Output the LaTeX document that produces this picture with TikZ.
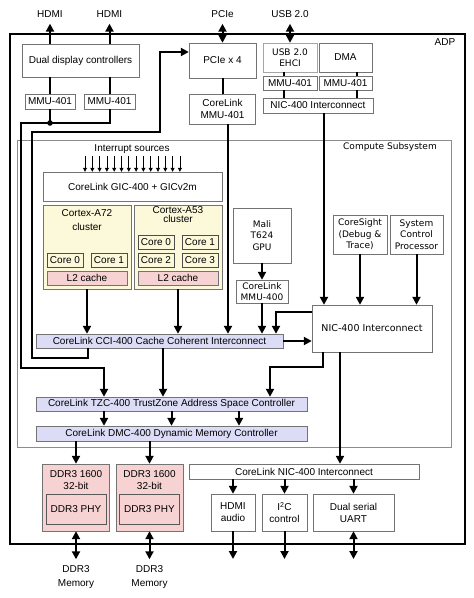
\documentclass[tikz,border=0pt]{standalone}
\usepackage{fontspec}
\setmainfont{Liberation Sans}
\newfontfamily\dvs{DejaVu Sans}
\usepackage{xcolor}
\usetikzlibrary{arrows.meta}
\colorlet{boxgray}{black!55}
\definecolor{lightyellow}{HTML}{FCF8DA}
\definecolor{lightpink}{HTML}{F6D2D2}
\definecolor{lightlav}{HTML}{DCDCF6}

\tikzset{
	wh/.style 2 args={minimum width=#1pt, minimum height=#2pt},
	lbl/.style={inner sep=2pt, align=center, font=\fontsize{10}{12}\selectfont},
	box/.style={draw=boxgray, fill=white, inner sep=0pt, align=center, font=\fontsize{10}{12}\selectfont},
	dv/.style={font=\dvs\fontsize{9}{11.5}\selectfont},
	core/.style={box, fill=lightyellow, draw=black!70, wh={36}{14}},
	bus/.style={line width=2pt},
}

\begin{document}
\begin{tikzpicture}[x=1pt, y=-1pt, >={Triangle[length=8pt,width=8pt]}]
	\useasboundingbox (0,0) rectangle (474,598);
	% frames
	\node	(adp) at (237.5,289) [draw, line width=1.5pt, wh={455}{510}] {};
	\node	(adpl) at (445,42) [lbl] {ADP};
	\node	(sub) at (234,293.5) [draw=black!45, line width=0.9pt, wh={434}{307}] {};
	\node	(subl) at (390,147) [lbl, dv] {Compute Subsystem};
	% top row
	\node	(hd1) at (50,14) [lbl] {HDMI};
	\node	(hd2) at (109.5,14) [lbl] {HDMI};
	\node	(pl) at (222.5,14) [lbl] {PCIe};
	\node	(ul) at (290,14) [lbl] {USB 2.0};
	\node	(dc) at (80.5,60.5) [box, wh={117}{33}] {Dual display controllers};
	\node	(ma) at (50,101.5) [box, wh={50}{15}] {MMU-401};
	\node	(mb) at (109.5,101.5) [box, wh={51}{15}] {MMU-401};
	\node	(pc) at (222.5,60.5) [box, wh={67}{35}] {PCIe x 4};
	\node	(pm) at (222.5,109) [box, wh={66}{30}] {CoreLink\\MMU-401};
	\node	(ue) at (290,57.5) [box, dv, draw=black!35, wh={54}{29}] {USB 2.0\\EHCI};
	\node	(dm) at (345.5,57.5) [box, wh={53}{29}] {DMA};
	\node	(uma) at (290,83) [box, wh={54}{14}] {MMU-401};
	\node	(umb) at (345.5,83) [box, wh={53}{14}] {MMU-401};
	\node	(nt) at (318,105.5) [box, wh={110}{15}] {NIC-400 Interconnect};
	% compute subsystem
	\node	(il) at (132,149) [lbl] {Interrupt sources};
	\node	(gic) at (132.5,186.5) [box, wh={179}{29}] {CoreLink GIC-400 + GICv2m};
	\node	(ca) at (87,247) [box, fill=lightyellow, wh={88}{84}] {};
	\node	(cal) at (87,220) [lbl] {Cortex-A72\\[2pt]cluster};
	\node	(a0) at (65,260) [core] {Core 0};
	\node	(a1) at (109,260) [core] {Core 1};
	\node	(al2) at (87,278) [box, fill=lightpink, wh={80}{14}] {L2 cache};
	\node	(cb) at (178,247) [box, fill=lightyellow, wh={88}{84}] {};
	\node	(cbl) at (178,215) [lbl] {Cortex-A53\\[-3pt]cluster};
	\node	(b0) at (156,242) [core] {Core 0};
	\node	(b1) at (200,242) [core] {Core 1};
	\node	(b2) at (156,260) [core] {Core 2};
	\node	(b3) at (200,260) [core] {Core 3};
	\node	(bl2) at (178,278) [box, fill=lightpink, wh={80}{14}] {L2 cache};
	\node	(gpu) at (262,235.5) [box, dv, wh={58}{55}] {Mali\\T624\\GPU};
	\node	(mm4) at (262,291.5) [box, dv, wh={52}{23}] {CoreLink\\MMU-400};
	\node	(cs) at (360,234.5) [box, dv, wh={54}{39}] {CoreSight\\(Debug \&\\Trace)};
	\node	(scp) at (416.5,234.5) [box, dv, wh={53}{39}] {System\\Control\\Processor};
	\node	(nb) at (372,328.5) [box, dv, font=\dvs\fontsize{9.5}{11.5}\selectfont, wh={120}{47}] {NIC-400 Interconnect};
	\node	(cci) at (159.5,341) [box, fill=lightlav, wh={247}{14}] {CoreLink CCI-400 Cache Coherent Interconnect};
	\node	(tzc) at (171.5,404) [box, fill=lightlav, wh={271}{14}] {CoreLink TZC-400 TrustZone Address Space Controller};
	\node	(dmc) at (171.5,433.5) [box, fill=lightlav, wh={271}{15}] {CoreLink DMC-400 Dynamic Memory Controller};
	% bottom row
	\node	(da) at (76,497.5) [box, fill=lightpink, wh={67}{67}] {};
	\node	(dal) at (76,480) [lbl] {DDR3 1600\\32-bit};
	\node	(pa) at (76,509) [box, fill=lightpink, draw=black!65, wh={60}{30}] {DDR3 PHY};
	\node	(db) at (149.5,497.5) [box, fill=lightpink, wh={67}{67}] {};
	\node	(dbl) at (149.5,480) [lbl] {DDR3 1600\\32-bit};
	\node	(pb) at (149.5,509) [box, fill=lightpink, draw=black!65, wh={60}{30}] {DDR3 PHY};
	\node	(nl) at (304,471.5) [box, wh={230}{15}] {CoreLink NIC-400 Interconnect};
	\node	(ha) at (233,512.5) [box, wh={44}{37}] {HDMI\\audio};
	\node	(ic) at (284.5,512.5) [box, wh={45}{37}] {I\textsuperscript{2}C\\control};
	\node	(ua) at (353.5,512.5) [box, wh={81}{37}] {Dual serial\\UART};
	\node	(ml1) at (76,577) [lbl] {DDR3\\[2pt]Memory};
	\node	(ml2) at (149.5,577) [lbl] {DDR3\\[2pt]Memory};
	\coordinate (ho) at (233,559);
	\coordinate (io) at (284.5,559);
	\coordinate (uo) at (353.5,559);

	\foreach \i in {0,...,13}
		\draw[line width=0.8pt, ->, >={Triangle[length=4pt,width=4pt]}] (85+7.3*\i,0 |- il.south) -- (85+7.3*\i,0 |- gic.north);

	\draw[bus]
	(ma.north |- dc.north) edge[->, shorten >=4pt] (hd1.south)
	(mb.north |- dc.north) edge[->, shorten >=4pt] (hd2.south)
	(pl.south) edge[<->, shorten <=4pt] (pc.north)
	(ul.south) edge[<->, shorten <=4pt] (ue.north)
	(ma.north |- dc.south) edge (ma.north)
	(mb.north |- dc.south) edge (mb.north)
	(pc.south) edge (pm.north)
	([xshift=-6pt]ue.south) edge ([xshift=-6pt]uma.north)
	([xshift=11.5pt]dm.south) edge ([xshift=11.5pt]umb.north)
	([xshift=-6pt]uma.south) edge ([xshift=-6pt]uma.south |- nt.north)
	([xshift=11.5pt]umb.south) edge ([xshift=11.5pt]umb.south |- nt.north)
	(ma.south) edge (ma.south |- 0,123)
	(228,0 |- pm.south) edge[->] (228,0 |- cci.north)
	(324,0 |- nt.south) edge[->] (324,0 |- nb.north)
	(ca.south) edge[->] (ca.south |- cci.north)
	(cb.south) edge[->] (cb.south |- cci.north)
	(gpu.south) edge[->] (mm4.north)
	(mm4.south) edge[->] (mm4.south |- cci.north)
	(cs.south) edge[->] (cs.south |- nb.north)
	(scp.south) edge[->] (scp.south |- nb.north)
	(cci.east) edge[->] (cci.east -| nb.west)
	(163,0 |- cci.south) edge[->] (163,0 |- tzc.north)
	(340,0 |- nb.south) edge[->] (340,0 |- nl.north)
	(104,0 |- tzc.south) edge[->] (104,0 |- dmc.north)
	(171.5,0 |- tzc.south) edge[->] (171.5,0 |- dmc.north)
	(239,0 |- tzc.south) edge[->] (239,0 |- dmc.north)
	(da.north |- dmc.south) edge[->] (da.north)
	(db.north |- dmc.south) edge[->] (db.north)
	(da.south) edge[<->, shorten >=4pt] (ml1.north)
	(db.south) edge[<->, shorten >=4pt] (ml2.north)
	(ha.north |- nl.south) edge[->] (ha.north)
	(ic.north |- nl.south) edge[->] (ic.north)
	(ua.north |- nl.south) edge[->] (ua.north)
	(ha.south) edge[->] (ho)
	(ic.south) edge[->] (io)
	(ua.south) edge[<->] (uo)
	;
	\draw[bus, ->] (mb.south) |- (21,123) |- (104,368) -- (104,0 |- tzc.north);
	\draw[bus, ->] (88,0 |- cci.south) |- (32,358) |- (160,132) |- ([yshift=8.5pt]pc.west);
	\draw[bus, ->] (nb.west |- 0,312) -| (276,0 |- cci.north);
	\draw[bus, ->] (323,0 |- nb.south) |- (270,367) -- (270,0 |- tzc.north);
	\fill (ma.south |- 0,123) circle (2.8pt);
\end{tikzpicture}
\end{document}
